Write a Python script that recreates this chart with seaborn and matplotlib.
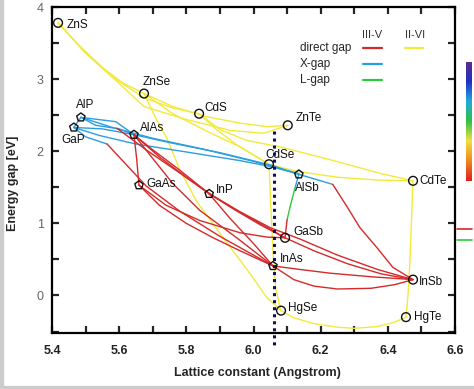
import numpy as np
import pandas as pd
import matplotlib
matplotlib.use("Agg")
import matplotlib.pyplot as plt
import matplotlib.colors as colors
from matplotlib.lines import Line2D
from matplotlib.patches import Rectangle
from matplotlib.ticker import MultipleLocator
import seaborn as sns

# binary compounds: lattice constant (Angstrom), energy gap (eV)
names = ['ZnS', 'ZnSe', 'CdS', 'AlP', 'GaP', 'AlAs', 'GaAs', 'InP', 'ZnTe',
         'CdSe', 'AlSb', 'CdTe', 'GaSb', 'InAs', 'InSb', 'HgSe', 'HgTe']
lattice = [5.418, 5.674, 5.838, 5.486, 5.465, 5.644, 5.659, 5.868, 6.102,
           6.046, 6.135, 6.475, 6.094, 6.058, 6.475, 6.082, 6.454]
gap = [3.78, 2.80, 2.52, 2.47, 2.33, 2.23, 1.53, 1.41, 2.36,
       1.82, 1.68, 1.59, 0.80, 0.41, 0.22, -0.21, -0.30]
family = ['II-VI', 'II-VI', 'II-VI', 'III-V', 'III-V', 'III-V', 'III-V', 'III-V', 'II-VI',
          'II-VI', 'III-V', 'II-VI', 'II-VI', 'III-V', 'II-VI', 'II-VI', 'II-VI']

# alloy curves, as (a, Eg) points
ii_vi_curves = [
    [(5.418, 3.78), (5.48, 3.47), (5.55, 3.16), (5.61, 2.95), (5.674, 2.80)],
    [(5.418, 3.78), (5.50, 3.36), (5.60, 2.94), (5.674, 2.62), (5.80, 2.44), (5.93, 2.29), (6.03, 2.25), (6.102, 2.36)],
    [(5.418, 3.78), (5.49, 3.42), (5.58, 3.03), (5.674, 2.74), (5.76, 2.60), (5.838, 2.52)],
    [(5.674, 2.80), (5.76, 2.62), (5.86, 2.48), (5.96, 2.39), (6.04, 2.34), (6.102, 2.36)],
    [(5.674, 2.80), (5.76, 2.52), (5.86, 2.28), (5.96, 2.06), (6.046, 1.82)],
    [(5.838, 2.52), (5.89, 2.30), (5.95, 2.09), (6.00, 1.95), (6.046, 1.82)],
    [(5.838, 2.52), (5.90, 2.30), (5.98, 2.15), (6.08, 2.06), (6.23, 1.88), (6.38, 1.69), (6.475, 1.59)],
    [(6.046, 1.82), (6.13, 1.72), (6.25, 1.64), (6.37, 1.60), (6.475, 1.59)],
    [(5.674, 2.80), (5.71, 2.45), (5.742, 2.18), (5.78, 1.75), (5.83, 1.31), (5.894, 0.90),
     (5.99, 0.30), (6.04, -0.03), (6.082, -0.21)],
    [(6.046, 1.82), (6.052, 1.20), (6.058, 0.60), (6.066, 0.10), (6.082, -0.21)],
    [(6.475, 1.59), (6.47, 1.00), (6.465, 0.40), (6.46, 0.00), (6.454, -0.30)],
    [(6.082, -0.21), (6.12, -0.31), (6.18, -0.39), (6.25, -0.44), (6.30, -0.455),
     (6.37, -0.43), (6.42, -0.37), (6.454, -0.30)],
]
x_gap_curves = [
    [(5.486, 2.47), (5.59, 2.41), (5.644, 2.23)],
    [(5.465, 2.33), (5.55, 2.31), (5.644, 2.23)],
    [(5.486, 2.47), (5.53, 2.36), (5.60, 2.31), (5.644, 2.23)],
    [(5.486, 2.47), (5.465, 2.33)],
    [(5.486, 2.47), (5.58, 2.33), (5.70, 2.18), (5.85, 2.03), (6.00, 1.86), (6.135, 1.68)],
    [(5.644, 2.23), (5.75, 2.12), (5.90, 1.98), (6.05, 1.81), (6.135, 1.68)],
    [(5.465, 2.33), (5.54, 2.22), (5.65, 2.10), (5.80, 1.99), (5.96, 1.87), (6.06, 1.78), (6.135, 1.69)],
    [(5.465, 2.33), (5.50, 2.20), (5.564, 2.10)],
    [(6.135, 1.68), (6.236, 1.54)],
    [(6.135, 1.68), (6.123, 1.48)],
]
l_gap_curves = [
    [(6.123, 1.48), (6.11, 1.25), (6.10, 1.05)],
]
direct_curves = [
    [(5.644, 2.23), (5.652, 1.90), (5.659, 1.53)],
    [(5.593, 2.32), (5.68, 2.02), (5.78, 1.70), (5.868, 1.41)],
    [(5.564, 2.10), (5.62, 1.82), (5.68, 1.52), (5.78, 1.17), (5.90, 0.82), (6.058, 0.41),
     (6.14, 0.36), (6.227, 0.31), (6.35, 0.26), (6.475, 0.22)],
    [(5.644, 2.23), (5.70, 2.02), (5.78, 1.74), (5.868, 1.41)],
    [(5.644, 2.23), (5.70, 1.90), (5.76, 1.55), (5.84, 1.18), (5.95, 0.80), (6.058, 0.41)],
    [(5.644, 2.23), (5.72, 1.92), (5.80, 1.64), (5.88, 1.38), (5.98, 1.10), (6.05, 0.92), (6.094, 0.80)],
    [(5.659, 1.53), (5.72, 1.25), (5.80, 1.00), (5.88, 0.80), (5.96, 0.62), (6.058, 0.41)],
    [(5.659, 1.53), (5.74, 1.25), (5.84, 1.04), (5.96, 0.87), (6.04, 0.81), (6.094, 0.80)],
    [(5.868, 1.41), (5.93, 1.07), (6.00, 0.72), (6.058, 0.41)],
    [(5.868, 1.41), (5.94, 1.20), (6.02, 0.98), (6.094, 0.80)],
    [(5.868, 1.41), (5.96, 1.16), (6.05, 0.94), (6.14, 0.78), (6.25, 0.56), (6.37, 0.36), (6.475, 0.22)],
    [(6.094, 0.80), (6.18, 0.62), (6.28, 0.44), (6.38, 0.30), (6.475, 0.22)],
    [(6.058, 0.41), (6.12, 0.22), (6.18, 0.13), (6.25, 0.09), (6.35, 0.10), (6.42, 0.15), (6.475, 0.22)],
    [(6.236, 1.54), (6.28, 1.22), (6.317, 0.94), (6.37, 0.65), (6.415, 0.39), (6.475, 0.22)],
    [(6.10, 1.05), (6.094, 0.80)],
]
marker_line_a = 6.06
marker_line_eg = (2.28, -0.73)

# build one long table of curve points
rows = []
cid = 0
for kind, group in [('II-VI', ii_vi_curves), ('X', x_gap_curves),
                    ('L', l_gap_curves), ('direct', direct_curves)]:
    for curve in group:
        for a, eg in curve:
            rows.append((cid, kind, a, eg))
        cid += 1
df = pd.DataFrame(rows, columns=['curve', 'kind', 'a', 'eg'])
pts = pd.DataFrame({'name': names, 'a': lattice, 'eg': gap, 'family': family})

RED, BLUE, GREEN, YELLOW = '#d42a2a', '#2a9fe0', '#2ec83a', '#f2ea3c'
palette = {'direct': RED, 'X': BLUE, 'L': GREEN, 'II-VI': YELLOW}

sns.set_style('white')
plt.rcParams['font.family'] = ['Liberation Sans', 'DejaVu Sans']

fig = plt.figure(figsize=(4.74, 3.89), dpi=100)
ax = fig.add_axes([52/474, 1-333/389, 403/474, 326/389])

sns.lineplot(data=df, x='a', y='eg', units='curve', hue='kind', palette=palette,
             estimator=None, sort=False, lw=1.0, legend=False, ax=ax)

# dotted vertical marker
ax.plot([marker_line_a, marker_line_a], marker_line_eg, color='#101060', lw=2.2,
        ls=(0, (1, 1.3)), clip_on=False, zorder=4)

sns.scatterplot(data=pts, x='a', y='eg', style='family',
                markers={'II-VI': 'o', 'III-V': 'p'}, s=40, facecolor='none',
                edgecolor='#111111', linewidth=1.0, legend=False, zorder=5, ax=ax)

# compound labels, offsets in pixels
offsets = {'ZnS': (9, -2), 'ZnSe': (-1, 12), 'CdS': (5, 6), 'AlP': (-5, 12),
           'GaP': (-12, -13), 'AlAs': (6, 7), 'GaAs': (7, 1), 'InP': (7, 4),
           'ZnTe': (8, 7), 'CdSe': (-4, 9), 'AlSb': (-4, -14), 'CdTe': (6, 0),
           'GaSb': (8, 6), 'InAs': (7, 7), 'InSb': (6, -2), 'HgSe': (7, 3),
           'HgTe': (8, 0)}
for n, a, eg in zip(names, lattice, gap):
    dx, dy = offsets[n]
    ax.annotate(n, (a, eg), xytext=(dx, dy), textcoords='offset pixels',
                ha='left', va='center', fontsize=8.5, color='#111111')

ax.set_xlim(5.4, 6.6)
ax.set_ylim(-0.52, 4.0)
ax.xaxis.set_major_locator(MultipleLocator(0.2))
ax.xaxis.set_minor_locator(MultipleLocator(0.1))
ax.yaxis.set_major_locator(MultipleLocator(1))
ax.yaxis.set_minor_locator(MultipleLocator(0.5))
ax.tick_params(which='both', direction='in', length=5, width=1.6,
               top=True, right=True, bottom=True, left=True)
ax.tick_params(axis='x', which='major', pad=9, labelsize=9, labelcolor='#222222')
ax.tick_params(axis='y', which='major', pad=6, labelsize=9, labelcolor='#666666')
for lab in ax.get_xticklabels():
    lab.set_fontweight('bold')
for sp in ax.spines.values():
    sp.set_linewidth(1.6)
    sp.set_color('black')

ax.set_xlabel('Lattice constant (Angstrom)', fontsize=9, fontweight='bold')
ax.set_ylabel('Energy gap [eV]', fontsize=9, fontweight='bold')
ax.xaxis.set_label_coords(0.51, -0.103)
ax.yaxis.set_label_coords(-0.083, 0.46)

# legend drawn as a small table
tr = ax.transAxes
ax.text(0.794, 0.914, 'III-V', transform=tr, ha='center', va='center', fontsize=8, color='#333333')
ax.text(0.901, 0.914, 'II-VI', transform=tr, ha='center', va='center', fontsize=8, color='#333333')
for label, yy, col in [('direct gap', 0.874, RED), ('X-gap', 0.825, BLUE), ('L-gap', 0.776, GREEN)]:
    ax.text(0.615, yy, label, transform=tr, ha='left', va='center', fontsize=8.5)
    ax.plot([0.772, 0.819], [yy, yy], transform=tr, color=col, lw=1.6)
ax.plot([0.876, 0.921], [0.874, 0.874], transform=tr, color=YELLOW, lw=1.6)

# stray colour strip and marks at the right edge of the source image
cax = fig.add_axes([466/474, 1-181/389, 6/474, 119/389])
strip = colors.LinearSegmentedColormap.from_list(
    'strip', ['#e02020', '#f08a20', '#f0e040', '#30c040', '#20a8e0', '#2030c8', '#5a2d8c'])
cax.imshow(np.linspace(1, 0, 100).reshape(-1, 1), aspect='auto', cmap=strip)
cax.axis('off')
fig.add_artist(Line2D([457/474, 472/474], [1-229/389]*2, color=RED, lw=1.2))
fig.add_artist(Line2D([457/474, 472/474], [1-240/389]*2, color=GREEN, lw=1.2))
fig.add_artist(Rectangle((0, 0), 3/474, 1, transform=fig.transFigure, color='#cccccc'))
fig.add_artist(Rectangle((0, 0), 1, 3/389, transform=fig.transFigure, color='#cccccc'))

fig.savefig('out.png', dpi=100)
